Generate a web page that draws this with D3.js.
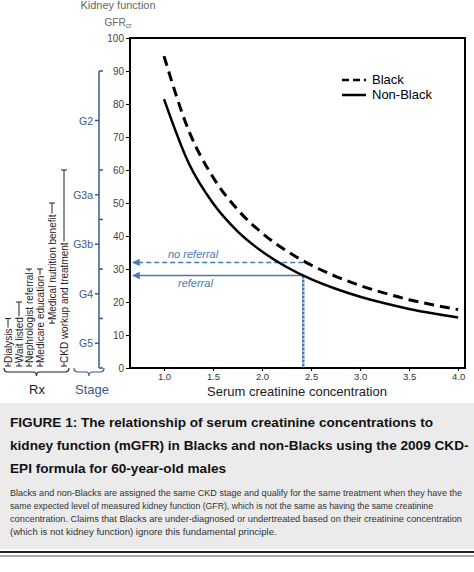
<!DOCTYPE html><html><head><meta charset="utf-8"><script src="https://cdn.jsdelivr.net/npm/d3@7"></script>
<style>body{margin:0;background:#fff;font-family:"Liberation Sans",Arial,sans-serif}</style></head><body><svg id="c" width="474" height="572"></svg>
<script>
const scr=[1.0,1.25,1.5,1.75,2.0,2.25,2.5,2.75,3.0,3.25,3.5,3.75,4.0];
const nonBlack=[81.5,62.2,49.9,41.4,35.3,30.6,26.9,24.0,21.6,19.6,17.9,16.5,15.3];
const black=[94.5,72.1,57.8,48.0,40.9,35.5,31.2,27.8,25.0,22.7,20.7,19.1,17.7];
const xTicks=[1.0,1.5,2.0,2.5,3.0,3.5,4.0];
const yTicks=d3.range(0,101,10);
const stages=[{n:"G2",lo:60,hi:90},{n:"G3a",lo:45,hi:60},{n:"G3b",lo:30,hi:45},{n:"G4",lo:15,hi:30},{n:"G5",lo:0,hi:15}];
const rx=[{t:"Dialysis",lo:0,hi:15},{t:"Wait listed",lo:0,hi:20},{t:"Nephrologist referral",lo:0,hi:30},{t:"Medicare education",lo:0,hi:30},{t:"Medical nutrition benefit",lo:13,hi:50},{t:"CKD workup and treatment",lo:0,hi:60}];
const refX=2.42, refNB=28, refB=32;
const svg=d3.select("#c");
const x=d3.scaleLinear().domain([0.653,4.07]).range([130,465]);
const y=d3.scaleLinear().domain([0,100]).range([368,38]);
const blue="#4a7ab5", navy="#3b5a8a";
const defs=svg.append("defs");
defs.append("marker").attr("id","ar").attr("viewBox","0 0 10 10").attr("refX",9).attr("refY",5).attr("markerWidth",5).attr("markerHeight",5).attr("orient","auto")
 .append("path").attr("d","M0,0L10,5L0,10z").attr("fill",blue);
svg.append("rect").attr("x",130).attr("y",38).attr("width",335).attr("height",330).attr("fill","none").attr("stroke","#000").attr("stroke-width",2);
svg.append("g").attr("transform","translate(130,0)").call(d3.axisLeft(y).tickValues(yTicks).tickSize(4).tickPadding(2)).call(g=>{g.select(".domain").remove();g.selectAll("text").attr("font-size",10).attr("fill","#444").attr("font-family","Liberation Sans");});
svg.append("g").attr("transform","translate(0,368)").call(d3.axisBottom(x).tickValues(xTicks).tickFormat(d3.format(".1f")).tickSize(3).tickPadding(2)).call(g=>{g.select(".domain").remove();g.selectAll("text").attr("font-size",9.5).attr("fill","#333").attr("font-family","Liberation Sans");});
svg.append("text").attr("x",297).attr("y",396).attr("text-anchor","middle").attr("font-size",13).attr("fill","#222").text("Serum creatinine concentration");
svg.append("text").attr("x",118).attr("y",9).attr("text-anchor","middle").attr("font-size",11).attr("fill","#666").text("Kidney function");
const gt=svg.append("text").attr("x",118).attr("y",26).attr("text-anchor","middle").attr("font-size",10).attr("fill","#666").text("GFR");
gt.append("tspan").attr("font-size",7).attr("dy",2).text("cr");
svg.append("line").attr("x1",x(refX)).attr("x2",133).attr("y1",y(refB)).attr("y2",y(refB)).attr("stroke",blue).attr("stroke-width",1.5).attr("stroke-dasharray","5,3").attr("marker-end","url(#ar)");
svg.append("line").attr("x1",x(refX)).attr("x2",133).attr("y1",y(refNB)).attr("y2",y(refNB)).attr("stroke",blue).attr("stroke-width",1.5).attr("marker-end","url(#ar)");
svg.append("line").attr("x1",x(refX)).attr("x2",x(refX)).attr("y1",y(refNB)).attr("y2",y(0)).attr("stroke",blue).attr("stroke-width",2.5).attr("stroke-dasharray","3,1");
svg.append("text").attr("x",168).attr("y",258).attr("font-size",11).attr("font-style","italic").attr("fill",blue).text("no referral");
svg.append("text").attr("x",178).attr("y",287).attr("font-size",11).attr("font-style","italic").attr("fill",blue).text("referral");
const line=d3.line().x(d=>x(d[0])).y(d=>y(d[1])).curve(d3.curveMonotoneX);
svg.append("path").datum(scr.map((s,i)=>[s,black[i]])).attr("d",line).attr("fill","none").attr("stroke","#000").attr("stroke-width",3).attr("stroke-dasharray","10,6");
svg.append("path").datum(scr.map((s,i)=>[s,nonBlack[i]])).attr("d",line).attr("fill","none").attr("stroke","#000").attr("stroke-width",2.5);
svg.append("line").attr("x1",342).attr("x2",366).attr("y1",80).attr("y2",80).attr("stroke","#000").attr("stroke-width",2.5).attr("stroke-dasharray","7,4");
svg.append("line").attr("x1",342).attr("x2",366).attr("y1",95).attr("y2",95).attr("stroke","#000").attr("stroke-width",2.5);
svg.append("text").attr("x",372).attr("y",84).attr("font-size",13).text("Black");
svg.append("text").attr("x",372).attr("y",99).attr("font-size",13).text("Non-Black");
const sx=99;
svg.append("line").attr("x1",sx).attr("x2",sx).attr("y1",y(90)).attr("y2",y(0)).attr("stroke",navy).attr("stroke-width",1.5);
[90,60,45,30,15,0].forEach(v=>svg.append("line").attr("x1",sx).attr("x2",sx+4).attr("y1",y(v)).attr("y2",y(v)).attr("stroke",navy).attr("stroke-width",1.5));
stages.forEach(s=>{const m=(s.lo+s.hi)/2;
 svg.append("line").attr("x1",sx-4).attr("x2",sx).attr("y1",y(m)).attr("y2",y(m)).attr("stroke",navy).attr("stroke-width",1.5);
 svg.append("text").attr("x",sx-6).attr("y",y(m)+4).attr("text-anchor","end").attr("font-size",10.5).attr("fill",navy).text(s.n);});
// rx bars: text inline on the bar
const rxX=[8,19,29,40,52,64];
rx.forEach((r,i)=>{const cx=rxX[i], y0=y(r.lo)-2;
 svg.append("line").attr("x1",cx-3).attr("x2",cx+3).attr("y1",y0).attr("y2",y0).attr("stroke","#222");
 const t=svg.append("text").attr("transform",`translate(${cx+4},${y0-3}) rotate(-90)`).attr("font-size",10).attr("fill","#222").text(r.t);
 const len=t.node().getComputedTextLength();
 const yEnd=y0-3-len-1;
 const yh=Math.min(y(r.hi),yEnd);
 svg.append("line").attr("x1",cx).attr("x2",cx).attr("y1",y0).attr("y2",y0-3).attr("stroke","#222");
 svg.append("line").attr("x1",cx).attr("x2",cx).attr("y1",yEnd).attr("y2",yh).attr("stroke","#222");
 svg.append("line").attr("x1",cx-3).attr("x2",cx+3).attr("y1",yh).attr("y2",yh).attr("stroke","#222");});
function brace(x1,x2,yy,col){const m=(x1+x2)/2;
 svg.append("path").attr("d",`M${x1},${yy-4}Q${x1},${yy} ${x1+4},${yy}L${m-3},${yy}Q${m},${yy} ${m},${yy+4}Q${m},${yy} ${m+3},${yy}L${x2-4},${yy}Q${x2},${yy} ${x2},${yy-4}`).attr("fill","none").attr("stroke",col).attr("stroke-width",1.2);}
brace(4,69,372,"#222");brace(74,104,372,navy);
svg.append("text").attr("x",37).attr("y",394).attr("text-anchor","middle").attr("font-size",13).attr("fill","#222").text("Rx");
svg.append("text").attr("x",92).attr("y",394).attr("text-anchor","middle").attr("font-size",13).attr("fill",navy).text("Stage");
svg.append("rect").attr("x",0).attr("y",403).attr("width",474).attr("height",146).attr("fill","#ebebeb");
const tl=["FIGURE 1: The relationship of serum creatinine concentrations to","kidney function (mGFR) in Blacks and non-Blacks using the 2009 CKD-","EPI formula for 60-year-old males"];
tl.forEach((t,i)=>svg.append("text").attr("x",10).attr("y",427+i*23).attr("font-size",13.6).attr("font-weight","bold").attr("fill","#111").text(t));
const bl=["Blacks and non-Blacks are assigned the same CKD stage and qualify for the same treatment when they have the","same expected level of measured kidney function (GFR), which is not the same as having the same creatinine","concentration.  Claims that Blacks are under-diagnosed or undertreated based on their creatinine concentration","(which is not kidney function) ignore this fundamental principle."];
bl.forEach((t,i)=>svg.append("text").attr("x",10).attr("y",496+i*13).attr("font-size",9.6).attr("fill","#333").attr("textLength",i<3?[452,423,452][i]:null).attr("lengthAdjust","spacingAndGlyphs").text(t));
svg.append("line").attr("x1",0).attr("x2",474).attr("y1",552).attr("y2",552).attr("stroke","#222").attr("stroke-width",2);
svg.append("line").attr("x1",0).attr("x2",474).attr("y1",556).attr("y2",556).attr("stroke","#555").attr("stroke-width",1);
</script></body></html>
